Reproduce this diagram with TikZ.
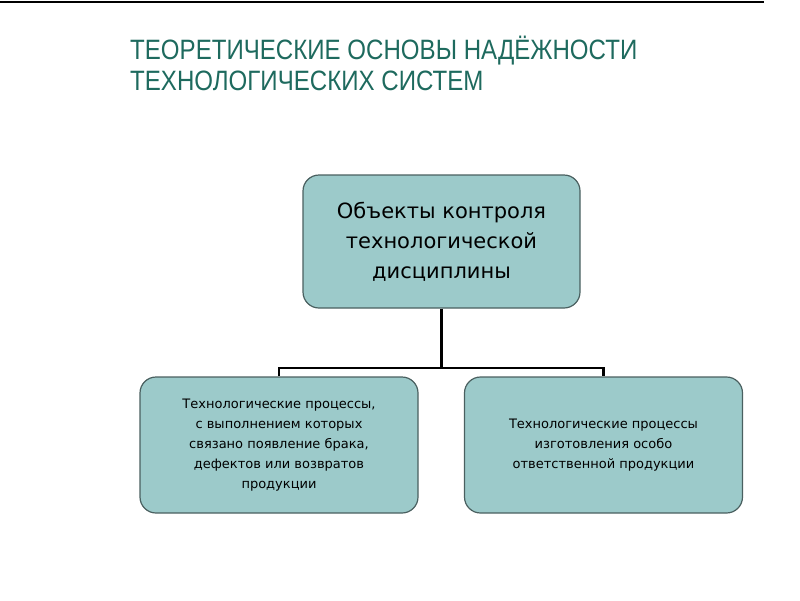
\documentclass[tikz,border=0pt]{standalone}
\usepackage{fontspec}
\setmainfont{DejaVu Sans}
\newfontfamily\titlefont[FakeStretch=0.86]{Liberation Sans}
\usetikzlibrary{positioning}
\definecolor{boxfill}{HTML}{9CCACA}
\definecolor{boxline}{HTML}{4A6060}
\definecolor{titlecol}{HTML}{1E6A5E}
\tikzset{
	topbox/.style={
		draw=boxline, fill=boxfill, line width=1.2pt,
		rounded corners=16pt, align=center,
		minimum width=277pt, minimum height=133pt,
		font={\fontsize{21}{30}\selectfont}
	},
	leafbox/.style={
		draw=boxline, fill=boxfill, line width=1.2pt,
		rounded corners=16pt, align=center,
		minimum width=278pt, minimum height=136pt,
		font={\fontsize{13}{20}\selectfont}
	},
	link/.style={line width=2.2pt}
}
\begin{document}
\begin{tikzpicture}[x=1pt, y=-1pt]
\useasboundingbox (0,0) rectangle (800,600);

\draw[line width=2pt] (0,2) -- (764,2);
\node(title)[anchor=north west, align=left, text=titlecol, inner sep=0pt,
	font={\titlefont\fontsize{28}{31}\selectfont}] at (130,36)
	{ТЕОРЕТИЧЕСКИЕ ОСНОВЫ НАДЁЖНОСТИ\\ТЕХНОЛОГИЧЕСКИХ СИСТЕМ};

\node(obj)[topbox] at (441.5,241.5){Объекты контроля\\технологической\\дисциплины};
\node(left)[leafbox] at (279,445){Технологические процессы,\\с выполнением которых\\связано появление брака,\\дефектов или возвратов\\продукции};
\node(right)[leafbox] at (603.5,445){Технологические процессы\\изготовления особо\\ответственной продукции};

\coordinate(fork) at (441.5,368);
\draw[link] (obj.south) -- (fork);
\draw[link] (left.north) |- (fork) -| (right.north);

\end{tikzpicture}
\end{document}
